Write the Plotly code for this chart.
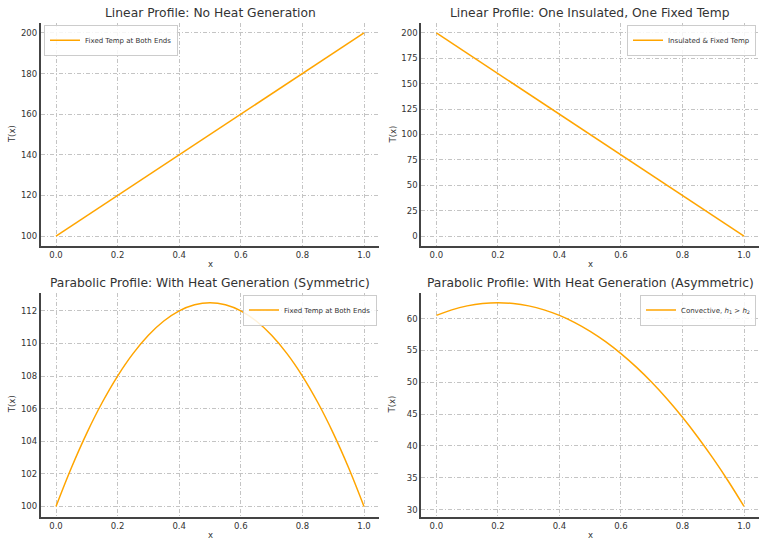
import plotly.graph_objects as go

W, H = 768, 549

# ---- data ----
x_lin = [0.0, 1.0]
t_no_gen = [100, 200]
t_insulated = [200, 0]

x_par = [0.0, 0.05, 0.1, 0.15, 0.2, 0.25, 0.3, 0.35, 0.4, 0.45, 0.5,
         0.55, 0.6, 0.65, 0.7, 0.75, 0.8, 0.85, 0.9, 0.95, 1.0]
t_sym = [100.0, 102.375, 104.5, 106.375, 108.0, 109.375, 110.5, 111.375, 112.0, 112.375, 112.5,
         112.375, 112.0, 111.375, 110.5, 109.375, 108.0, 106.375, 104.5, 102.375, 100.0]
t_asym = [60.5, 61.375, 62.0, 62.375, 62.5, 62.375, 62.0, 61.375, 60.5, 59.375, 58.0,
          56.375, 54.5, 52.375, 50.0, 47.375, 44.5, 41.375, 38.0, 34.375, 30.5]

titles = ["Linear Profile: No Heat Generation",
          "Linear Profile: One Insulated, One Fixed Temp",
          "Parabolic Profile: With Heat Generation (Symmetric)",
          "Parabolic Profile: With Heat Generation (Asymmetric)"]
legend_names = ["Fixed Temp at Both Ends", "Insulated & Fixed Temp",
                "Fixed Temp at Both Ends",
                "Convective, <i>h</i><sub>1</sub> &gt; <i>h</i><sub>2</sub>"]
x_ticks = [0.0, 0.2, 0.4, 0.6, 0.8, 1.0]
y_ticks = [[100, 120, 140, 160, 180, 200],
           [0, 25, 50, 75, 100, 125, 150, 175, 200],
           [100, 102, 104, 106, 108, 110, 112],
           [30, 35, 40, 45, 50, 55, 60]]
y_ranges = [[95, 205], [-10, 210], [99.375, 113.125], [28.9, 64.1]]

# ---- layout geometry (pixels) ----
cols_px = [(40.6, 379.4), (421.0, 759.4)]
rows_px = [(22.8, 246.2), (292.5, 516.6)]

FONT = "DejaVu Sans"
TXT = "#333333"
LINE = "orange"

fig = go.Figure()
series = [(x_lin, t_no_gen), (x_lin, t_insulated), (x_par, t_sym), (x_par, t_asym)]
legend_pos = [("left", 44), ("right", 756), ("right", 377), ("right", 756)]

annotations = []
for i in range(4):
    r, c = divmod(i, 2)
    x0, x1 = cols_px[c]
    yt, yb = rows_px[r]
    sfx = "" if i == 0 else str(i + 1)
    lg = "legend" if i == 0 else f"legend{i + 1}"
    xs, ys = series[i]
    fig.add_trace(go.Scatter(
        x=xs, y=ys, mode="lines", name=legend_names[i],
        line=dict(color=LINE, width=1.5, shape="spline" if i >= 2 else "linear"),
        xaxis="x" + sfx, yaxis="y" + sfx, legend=lg, showlegend=True))
    axcommon = dict(showline=True, linecolor="#444444", linewidth=1.5,
                    showgrid=True, gridcolor="#c4c4c4", griddash="4px,2px,1px,2px", gridwidth=0.8,
                    zeroline=False, ticks="", tickfont=dict(family=FONT, size=8.5, color=TXT))
    fig.update_layout(**{
        "xaxis" + sfx: dict(domain=[x0 / W, x1 / W], anchor="y" + sfx, range=[-0.05, 1.05],
                            tickvals=x_ticks, ticktext=[f"{v:.1f}" for v in x_ticks], **axcommon),
        "yaxis" + sfx: dict(domain=[1 - yb / H, 1 - yt / H], anchor="x" + sfx, range=y_ranges[i],
                            tickvals=y_ticks[i], **axcommon),
    })
    side, lx = legend_pos[i]
    fig.update_layout(**{lg: dict(
        x=lx / W, xanchor=side, y=1 - (yt + 2) / H, yanchor="top",
        bgcolor="rgba(255,255,255,0.85)", bordercolor="#cccccc", borderwidth=1,
        font=dict(family=FONT, size=7, color=TXT), tracegroupgap=0,
        itemwidth=30)})
    # title
    annotations.append(dict(text=titles[i], x=(x0 + x1) / 2 / W, y=1 - (yt - 10) / H,
                            xref="paper", yref="paper", showarrow=False,
                            xanchor="center", yanchor="middle",
                            font=dict(family=FONT, size=12.3, color=TXT)))
    # axis titles
    annotations.append(dict(text="x", x=(x0 + x1) / 2 / W, y=1 - (yb + 18) / H,
                            xref="paper", yref="paper", showarrow=False,
                            xanchor="center", yanchor="middle",
                            font=dict(family=FONT, size=8.5, color=TXT)))
    annotations.append(dict(text="T(x)", x=(x0 - 29) / W, y=1 - (yt + yb) / 2 / H,
                            xref="paper", yref="paper", showarrow=False, textangle=-90,
                            xanchor="center", yanchor="middle",
                            font=dict(family=FONT, size=8.5, color=TXT)))

fig.update_layout(width=W, height=H, margin=dict(l=0, r=0, t=0, b=0),
                  paper_bgcolor="white", plot_bgcolor="white",
                  annotations=annotations, font=dict(family=FONT, color=TXT))
fig.write_html("out.html")
